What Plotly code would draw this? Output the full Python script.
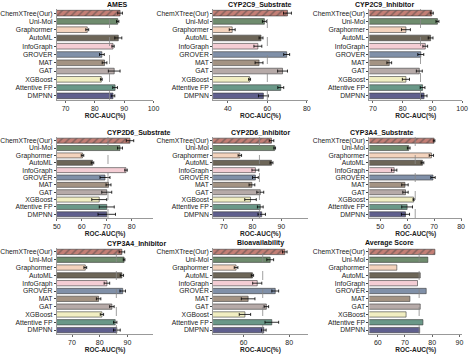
import plotly.graph_objects as go
from plotly.subplots import make_subplots

models = ["ChemXTree(Our)", "Uni-Mol", "Graphormer", "AutoML", "InfoGraph", "GROVER",
          "MAT", "GAT", "XGBoost", "Attentive FP", "DMPNN"]
colors = ["#c47f76", "#6f8c6e", "#f3d3bd", "#6d6658", "#f4cdd4", "#8090a8",
          "#a39383", "#b6aaa8", "#f1eec2", "#6a9888", "#5f5f8d"]

titles = ["AMES", "CYP2C9_Substrate", "CYP2C9_Inhibitor",
          "CYP2D6_Substrate", "CYP2D6_Inhibitor", "CYP3A4_Substrate",
          "CYP3A4_Inhibitor", "Bioavailability", "Average Score"]

ames = [88.6, 87.8, 77.4, 88.0, 86.2, 82.4, 83.3, 86.6, 82.2, 86.9, 86.2]
ames_err = [0.8, 0.4, 0.5, 1.2, 0.4, 0.8, 0.8, 2.0, 0.3, 0.8, 0.6]
c2c9s = [70.2, 58.5, 42.2, 56.8, 55.2, 69.8, 55.8, 67.7, 51.0, 66.8, 58.0]
c2c9s_err = [2.0, 1.0, 1.5, 1.0, 2.0, 1.5, 2.0, 2.5, 0.5, 1.5, 2.5]
c2c9i = [89.8, 91.7, 81.1, 89.4, 87.6, 86.1, 75.5, 85.6, 81.1, 86.7, 87.2]
c2c9i_err = [0.5, 0.5, 1.5, 0.8, 0.8, 1.0, 0.8, 1.0, 1.2, 0.8, 1.0]
c2d6s = [79.3, 75.3, 60.3, 64.3, 77.7, 69.3, 70.7, 70.0, 67.0, 70.0, 70.0]
c2d6s_err = [1.5, 1.0, 0.5, 0.5, 0.5, 2.0, 1.0, 2.0, 3.0, 3.0, 3.5]
c2d6i = [86.6, 87.7, 75.6, 86.6, 81.0, 81.0, 79.8, 82.7, 79.3, 82.7, 83.2]
c2d6i_err = [0.8, 0.3, 0.6, 0.5, 1.2, 1.0, 1.0, 1.2, 2.0, 1.0, 1.3]
c3a4s = [70.0, 60.6, 69.0, 65.7, 55.2, 69.6, 59.2, 59.4, 62.4, 60.0, 59.4]
c3a4s_err = [0.3, 0.5, 0.8, 0.5, 1.0, 0.8, 1.2, 1.0, 0.2, 2.0, 1.5]
c3a4i = [88.0, 88.8, 74.8, 88.0, 82.6, 88.3, 79.6, 84.4, 80.8, 85.6, 86.2]
c3a4i_err = [1.0, 0.3, 0.5, 0.6, 1.0, 1.0, 0.8, 0.8, 0.6, 0.6, 1.2]
bio = [78.1, 71.7, 56.7, 63.9, 66.0, 73.9, 62.0, 70.0, 60.6, 72.4, 68.9]
bio_err = [1.0, 1.5, 0.8, 0.5, 2.0, 1.5, 3.0, 1.0, 2.5, 3.0, 1.0]
avg = [81.0, 78.4, 67.0, 75.6, 74.6, 77.8, 71.8, 75.6, 70.4, 76.6, 75.4]

series = [ames, c2c9s, c2c9i, c2d6s, c2d6i, c3a4s, c3a4i, bio, avg]
errors = [ames_err, c2c9s_err, c2c9i_err, c2d6s_err, c2d6i_err, c3a4s_err, c3a4i_err, bio_err, None]
ref_lines = [85.0, 60.0, 86.0, 70.5, 82.4, 63.0, 86.0, 68.4, 75.2]
x_ranges = [[67, 100], [32.5, 80.5], [68.8, 100], [50, 88.7], [66.3, 99.2],
            [46, 80.4], [64.5, 99.4], [46.6, 88.2], [56.9, 91]]
x_dticks = [10, 20, 10, 10, 10, 10, 10, 20, 10]

W, H = 474, 354
col_px = [(53, 152), (213, 310), (373, 468)]
row_px = [(9, 100), (137, 218), (248, 334)]

fig = make_subplots(rows=3, cols=3)
FONT = "Arial, Liberation Sans, sans-serif"

for i in range(9):
    r, c = i // 3, i % 3
    err = errors[i]
    fig.add_trace(go.Bar(
        x=series[i], y=models, orientation="h",
        marker=dict(color=colors, line=dict(color="#3a3a3a", width=0.6),
                    pattern=dict(shape=["/"] + [""] * 10, fgcolor="#7a3f3a",
                                 size=5, solidity=0.3)),
        error_x=(dict(type="data", array=err, color="black", thickness=0.8, width=1.5)
                 if err is not None else dict(visible=False)),
        showlegend=False,
    ), row=r + 1, col=c + 1)
    x0, x1 = col_px[c]
    y0, y1 = row_px[r]
    xd = [x0 / W, x1 / W]
    yd = [1 - y1 / H, 1 - y0 / H]
    fig.update_xaxes(domain=xd, range=x_ranges[i], dtick=x_dticks[i], tick0=0,
                     showgrid=False, zeroline=False, showline=True, linecolor="#999",
                     linewidth=0.8, ticks="outside", ticklen=2, tickcolor="#666",
                     tickfont=dict(size=7, family=FONT, color="#222"),
                     title=dict(text="<b>ROC-AUC(%)</b>", standoff=2,
                                font=dict(size=6.5, family=FONT, color="#222")),
                     row=r + 1, col=c + 1)
    fig.update_yaxes(domain=yd, type="category", tickmode="array", tickvals=models,
                     ticktext=models, categoryorder="array", categoryarray=models,
                     autorange="reversed", showgrid=False, zeroline=False,
                     showline=True, linecolor="#999", linewidth=0.8,
                     ticks="outside", ticklen=2, tickcolor="#444",
                     tickfont=dict(size=6.8, family=FONT, color="#222"),
                     row=r + 1, col=c + 1)
    axn = "" if i == 0 else str(i + 1)
    fig.add_shape(type="line", xref="x" + axn, yref="y" + axn + " domain",
                  x0=ref_lines[i], x1=ref_lines[i], y0=0, y1=1,
                  line=dict(color="#888", width=0.8, dash="dash"))
    fig.add_annotation(text="<b>" + titles[i] + "</b>", xref="paper", yref="paper",
                       x=(xd[0] + xd[1]) / 2, y=yd[1], yanchor="bottom", yshift=-1,
                       showarrow=False, font=dict(size=7, family=FONT, color="#111"))

fig.update_layout(width=W, height=H, margin=dict(l=0, r=0, t=0, b=0),
                  paper_bgcolor="white", plot_bgcolor="white", bargap=0.32)
fig.write_html("out.html")
